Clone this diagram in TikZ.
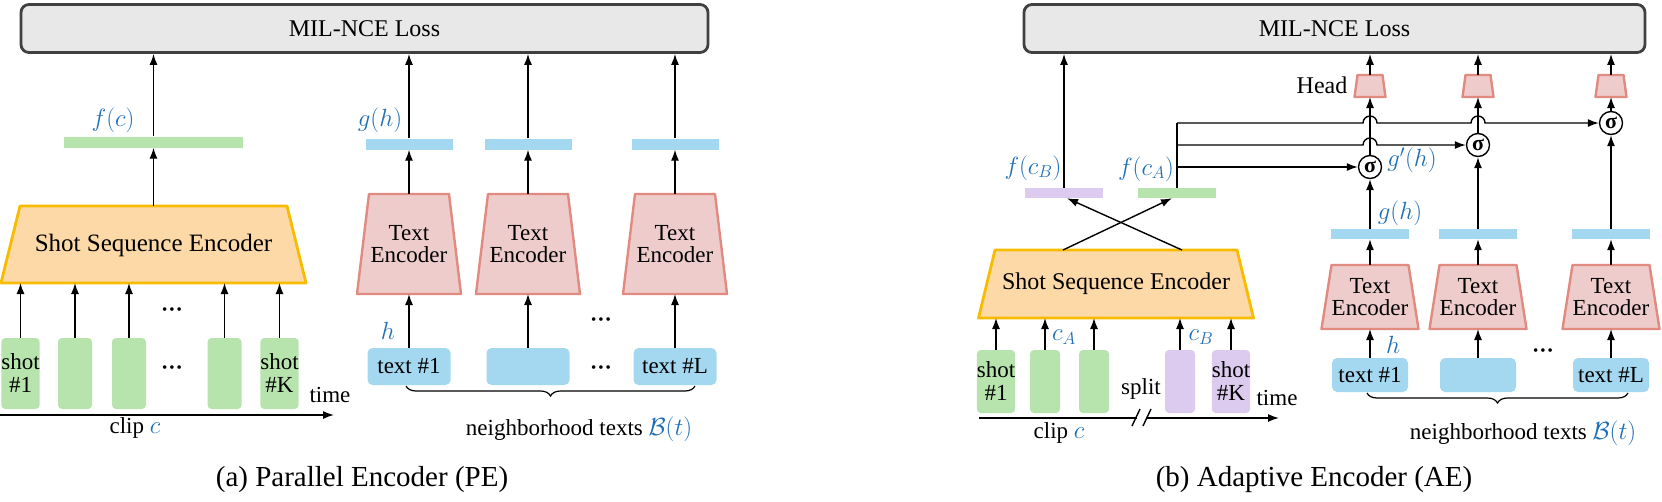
\documentclass[tikz,border=0pt]{standalone}
\usepackage{fontspec}
\setmainfont{Liberation Serif}
\usetikzlibrary{arrows.meta,decorations.pathreplacing,calc}
\definecolor{cgreen}{HTML}{B7E4AD}
\definecolor{cblue}{HTML}{A3D8F0}
\definecolor{cpurple}{HTML}{DCCBEE}
\definecolor{cpinkf}{HTML}{EFCCCC}
\definecolor{cpinkd}{HTML}{E08A80}
\definecolor{corf}{HTML}{FDD9A8}
\definecolor{cord}{HTML}{F7BC00}
\definecolor{clab}{HTML}{1F6FB5}
\newcommand\fs[1]{\fontsize{#1}{#1}\selectfont}
% name, cx, ytop, ybot, topw, botw, style
\newcommand\mytrap[7]{%
  \draw[#7] ({#2-#5/2},#3) -- ({#2+#5/2},#3) -- ({#2+#6/2},#4) -- ({#2-#6/2},#4) -- cycle;
  \coordinate (#1t) at (#2,#3);
  \coordinate (#1b) at (#2,#4);
  \coordinate (#1c) at (#2,{(#3+#4)/2});}
\tikzset{
  every node/.style={font=\fs{23}},
  arr/.style={-{Latex[length=11pt,width=8pt]},line width=1.4pt},
  ln/.style={line width=1.4pt},
  loss/.style={draw=black!75,line width=2.8pt,fill=black!9,rounded corners=8pt,minimum height=48pt,font=\fs{24}},
  bar/.style={inner sep=0,minimum height=11pt},
  shot/.style={inner sep=0,rounded corners=4pt,align=center,font=\fs{23}},
  tbox/.style={fill=cblue,inner sep=0,rounded corners=5pt,font=\fs{23}},
  penc/.style={fill=cpinkf,draw=cpinkd,line width=2.4pt,line join=round},
  oenc/.style={fill=corf,draw=cord,line width=2.8pt,line join=round},
  lab/.style={text=clab,font=\fs{26}},
  sig/.style={circle,draw,line width=1.4pt,fill=white,minimum size=23pt,inner sep=0,font=\fs{22}\bfseries},
  brc/.style={decorate,decoration={brace,mirror,amplitude=10pt},line width=1.2pt},
  dots/.style={font=\fs{15}}
}
\newcommand\mydots{\textbullet\hspace{2pt}\textbullet\hspace{2pt}\textbullet}
\begin{document}
\begin{tikzpicture}[x=1pt,y=-1pt]
\useasboundingbox (0,0) rectangle (1662,501);
% ================= (a) =================
\node[loss,minimum width=687pt] (lossL) at (364.5,28.5) {MIL-NCE Loss};
\node[bar,fill=cgreen,minimum width=179pt] (fc) at (153.5,142) {};
\node[lab] at (113,120) {$f(c)$};
\mytrap{encL}{153.5}{206}{283}{267}{305}{oenc}
\node[font=\fs{25}] at (153.5,245) {Shot Sequence Encoder};
\draw[arr] (encLt) -- (fc.south);
\draw[arr] (fc.north) -- (fc.north |- lossL.south);
\foreach \i/\x/\t in {1/20.5/{shot\\\#1},2/75/{},3/129/{},4/224.5/{},5/279.5/{shot\\\#K}} {
  \node[shot,fill=cgreen,minimum width=34pt,minimum height=71pt] (sL\i) at (\x,373.5) {\t};
  \draw[arr] (sL\i.north) -- (sL\i.north |- encLb);
}
\node[dots] at (172,369) {\mydots};
\node[dots] at (172,311) {\mydots};
\coordinate (axL0) at (0,415); \coordinate (axL1) at (334,415);
\draw[arr] (axL0) -- (axL1);
\node at (330,395) {time};
\node at (135,428) {clip \textcolor{clab}{$c$}};
\foreach \i/\x/\t in {1/409/{text \#1},2/528/{},3/675/{text \#L}} {
  \node[bar,fill=cblue,minimum width=87pt] (gL\i) at (\x,144) {};
  \mytrap{teL\i}{\x}{194}{294}{80}{104}{penc}
  \node[align=center,font=\fs{23}] at (teL\i c) {Text\\[-1pt]Encoder};
  \node[tbox,minimum width=83pt,minimum height=37pt] (tL\i) at (\x,366.5) {\t};
  \draw[arr] (tL\i.north) -- (teL\i b);
  \draw[arr] (teL\i t) -- (gL\i.south);
  \draw[arr] (gL\i.north) -- (gL\i.north |- lossL.south);
}
\node[lab] at (380,120) {$g(h)$};
\node[lab] at (388,331) {$h$};
\node[dots] at (601,369) {\mydots};
\node[dots] at (601,321) {\mydots};
\draw[brc] (406,386) -- (695,386);
\node at (579,429) {neighborhood texts \textcolor{clab}{$\mathcal{B}(t)$}};
\node[font=\fs{29}] at (362,480) {(a) Parallel Encoder (PE)};
% ================= (b) =================
\node[loss,minimum width=621pt] (lossR) at (1334.5,28.5) {MIL-NCE Loss};
\node[bar,fill=cpurple,minimum width=78pt,minimum height=10pt] (fcB) at (1064,193) {};
\node[bar,fill=cgreen,minimum width=78pt,minimum height=10pt] (fcA) at (1177,193) {};
\node[lab] at (1033,168) {$f(c_B)$};
\node[lab] at (1146,169) {$f(c_A)$};
\mytrap{encR}{1116}{250}{318}{242}{275}{oenc}
\node[font=\fs{24}] at (1116,284) {Shot Sequence Encoder};
\coordinate (xa) at (1063,250); \coordinate (xb) at (1182,250);
\draw[arr] (xa) -- ($(fcA.south)+(-5,0)$);
\draw[arr] (xb) -- ($(fcB.south)+(3,0)$);
\draw[arr] (fcB.north) -- (fcB.north |- lossR.south);
\foreach \i/\x/\c/\t in {1/996/cgreen/{shot\\\#1},2/1045/cgreen/{},3/1094/cgreen/{},4/1180/cpurple/{},5/1231/cpurple/{shot\\\#K}} {
  \node[shot,fill=\c,minimum width=30pt,minimum height=63pt] (sR\i) at (\x,381.5) {\t};
  \draw[arr] (sR\i.north) -- (sR\i.north |- encRb);
}
\node[lab] at (1064,337) {$c_A$};
\node[lab] at (1201,337) {$c_B$};
\node at (1141,389) {split};
\coordinate (axR0) at (979,418); \coordinate (axR1) at (1137,418);
\coordinate (axR2) at (1146,418); \coordinate (axR3) at (1279,418);
\draw[ln] (axR0) -- (axR1);
\draw[arr] (axR2) -- (axR3);
\draw[ln] ($(axR1)+(-5,8)$) -- ($(axR1)+(3,-9)$);
\draw[ln] ($(axR2)+(-3,8)$) -- ($(axR2)+(5,-9)$);
\node at (1277,398) {time};
\node at (1059,433) {clip \textcolor{clab}{$c$}};
\foreach \i/\x/\t/\sy in {1/1370/{text \#1}/167,2/1478/{}/145,3/1611/{text \#L}/123} {
  \node[bar,fill=cblue,minimum width=78pt,minimum height=10pt] (gR\i) at (\x,234) {};
  \mytrap{teR\i}{\x}{265}{329}{77}{97}{penc}
  \node[align=center,font=\fs{23}] at (teR\i c) {Text\\[-1pt]Encoder};
  \node[tbox,minimum width=76pt,minimum height=34pt] (tR\i) at (\x,375) {\t};
  \draw[arr] (tR\i.north) -- (teR\i b);
  \draw[arr] (teR\i t) -- (gR\i.south);
  \node[sig] (sg\i) at (\x,\sy) {σ};
  \draw[arr] (gR\i.north) -- (sg\i.south);
  \mytrap{hd\i}{\x}{75}{97}{25}{31}{penc}
  \draw[arr] (sg\i.north) -- (hd\i b);
  \draw[arr] (hd\i t) -- (hd\i t |- lossR.south);
}
\node[font=\fs{24}] at (1322,85) {Head};
\node[lab] at (1400,213) {$g(h)$};
\node[lab] at (1412,160) {$g'(h)$};
\node[lab] at (1393,345) {$h$};
\node[dots] at (1543,352) {\mydots};
% feature lines with jumps
\coordinate (fa0) at (1177,123);
\draw[ln] (fcA.north) -- (fa0);
\draw[arr] (fcA.north |- sg1.west) -- (sg1.west);
\draw[arr] (fcA.north |- sg2.west) -- ($(sg1.north |- sg2.west)+(-7,0)$) arc[start angle=180,end angle=0,radius=7pt] -- (sg2.west);
\draw[arr] (fa0) -- ($(sg1.north |- fa0)+(-7,0)$) arc[start angle=180,end angle=0,radius=7pt] -- ($(sg2.north |- fa0)+(-7,0)$) arc[start angle=180,end angle=0,radius=7pt] -- (sg3.west);
\draw[brc] (1367,393) -- (1628,393);
\node at (1523,433) {neighborhood texts \textcolor{clab}{$\mathcal{B}(t)$}};
\node[font=\fs{29}] at (1314,480) {(b) Adaptive Encoder (AE)};
\end{tikzpicture}
\end{document}
